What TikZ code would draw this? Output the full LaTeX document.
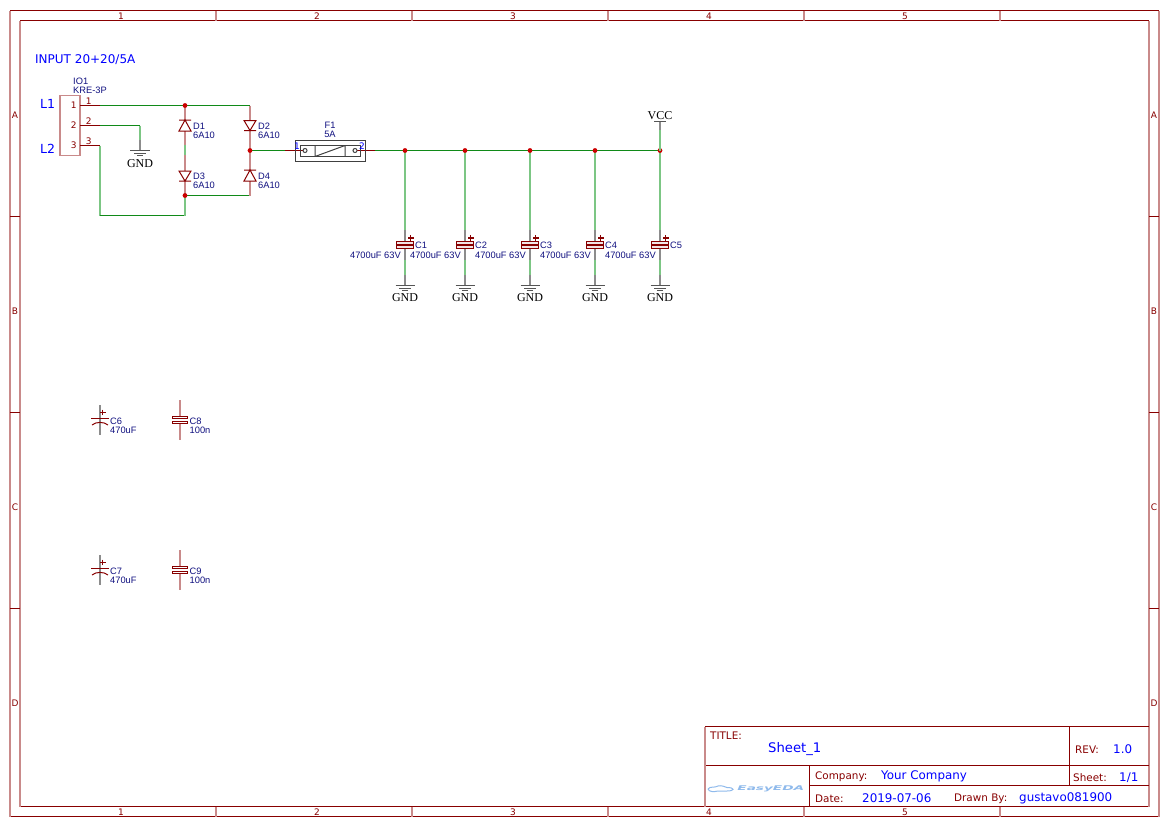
\documentclass[tikz,border=0pt]{standalone}
\usepackage{fontspec}
\setmainfont{DejaVu Sans}
\newfontfamily\partfont{Liberation Sans}
\newfontfamily\netfont{Liberation Serif}
\definecolor{framered}{HTML}{880000}
\definecolor{palered}{HTML}{C98A8A}
\definecolor{wiregreen}{HTML}{108A18}
\definecolor{palegreen}{HTML}{7CC684}
\definecolor{dotred}{HTML}{CC0000}
\definecolor{partblue}{HTML}{101080}
\definecolor{textblue}{HTML}{0000FF}
\definecolor{pingrey}{HTML}{555555}
\definecolor{palegrey}{HTML}{8C8C8C}
\definecolor{logoblue}{HTML}{8FBAEC}
\tikzset{
  wire/.style={wiregreen,line width=1pt},
  vwire/.style={palegreen,line width=1.7pt},
  pin/.style={framered,line width=1pt},
  vpin/.style={palered,line width=1.7pt},
  stub/.style={pingrey,line width=1pt},
  vstub/.style={palegrey,line width=1.7pt},
  part/.style={framered,line width=1pt},
  dot/.style={circle,fill=dotred,inner sep=0pt,minimum size=4.8pt},
  lab/.style={inner sep=0pt,text=partblue,font=\partfont\fontsize{9.3}{10}\selectfont},
  net/.style={inner sep=0pt,font=\netfont\fontsize{12}{12}\selectfont},
  head/.style={inner sep=0pt,text=framered,font=\fontsize{9}{10}\selectfont},
  pinnum/.style={inner sep=0pt,text=framered,font=\fontsize{9}{10}\selectfont},
  blk/.style={inner sep=0pt,anchor=west,text=framered,font=\fontsize{10.4}{12}\selectfont},
  val/.style={inner sep=0pt,anchor=west,text=textblue,font=\fontsize{11.9}{13}\selectfont},
}
\begin{document}
\begin{tikzpicture}[x=1pt,y=-1pt]
\useasboundingbox (0,0) rectangle (1169,827);
\fill[white] (0,0) rectangle (1169,827);
\draw[part] (10,10.5) -- (1159,10.5) (20,20.5) -- (1149,20.5) (10,816.5) -- (1159,816.5) (20,806.5) -- (1149,806.5);
\draw[vpin] (10,10.5) -- (10,816.5) (20,20.5) -- (20,806.5) (1149,20.5) -- (1149,806.5) (1159,10.5) -- (1159,816.5);
\foreach \x in {216,412,608,804,1000} {
  \draw[vpin] (\x,10.5) -- (\x,20.5);
  \draw[vpin] (\x,806.5) -- (\x,816.5);
}
\foreach \y in {216.5,412.5,608.5} {
  \draw[part] (10,\y) -- (20,\y);
  \draw[part] (1149,\y) -- (1159,\y);
}
\foreach \n/\x in {1/121,2/317,3/513,4/709,5/905} {
  \node[head] at (\x,16) {\n};
  \node[head] at (\x,812) {\n};
}
\foreach \n/\y in {A/115.5,B/311.5,C/507.5,D/703.5} {
  \node[head] at (15,\y) {\n};
  \node[head] at (1154,\y) {\n};
}

\draw[part] (705,726.5) -- (1149,726.5) (705,765.5) -- (1149,765.5) (809,785.5) -- (1149,785.5);
\draw[vpin] (705,726.5) -- (705,806.5);
\draw[part] (809,765.5) -- (809,806.5);
\draw[part] (1069,726.5) -- (1069,785.5);
\node[blk] at (710,735.5) {TITLE:};
\node[val,font=\fontsize{13.2}{15}\selectfont] at (768,749) {Sheet\_1};
\node[blk] at (1075,749.5) {REV:};
\node[val] at (1113,749) {1.0};
\node[blk] at (815,776.5) {Company:};
\node[val] at (881,776) {Your Company};
\node[blk] at (1073,778) {Sheet:};
\node[val] at (1119,778) {1/1};
\node[blk] at (815,798.5) {Date:};
\node[val] at (862,798) {2019-07-06};
\node[blk] at (954,798.5) {Drawn By:};
\node[val] at (1019,798) {gustavo081900};
\draw[logoblue,line width=1pt] (708,789) .. controls (710,786) and (715,788) .. (718,786) .. controls (722,785) and (725,787) .. (727,787.5) .. controls (735,787.5) and (735,791) .. (727,791) -- (718,791) .. controls (714,792) and (709,792) .. (708,789);
\node[inner sep=0pt,anchor=west,text=logoblue,xscale=2.1,font=\bfseries\itshape\fontsize{6.5}{7}\selectfont] at (737,788.5) {EasyEDA};

\node[inner sep=0pt,anchor=west,text=textblue,font=\fontsize{12}{14}\selectfont] at (35,59.5) {INPUT 20+20/5A};
\node[inner sep=0pt,text=textblue,font=\fontsize{12.5}{14}\selectfont] at (47.5,104) {L1};
\node[inner sep=0pt,text=textblue,font=\fontsize{12.5}{14}\selectfont] at (47.5,149) {L2};

\node[lab,anchor=west] at (73,81) {IO1};
\node[lab,anchor=west] at (73,90) {KRE-3P};
\node[draw=palered,line width=1.4pt,minimum width=20pt,minimum height=60pt,inner sep=0pt,outer sep=0pt] (io1) at (70,125.5) {};
\foreach \n/\y in {1/105.5,2/125.5,3/145.5} {
  \coordinate (p\n) at (80,\y);
  \coordinate (q\n) at (100,\y);
  \draw[pin] (p\n) -- (q\n);
  \node[pinnum] at (73.7,\y) {\n};
  \node[pinnum] at (88.7,\y-4) {\n};
}

\coordinate (top) at (185,105.5);
\coordinate (topr) at (250,105.5);
\coordinate (midr) at (250,150.5);
\coordinate (bot) at (185,195.5);
\coordinate (botr) at (250,195.5);
\coordinate (gnd0) at (140,150);
\coordinate (gnd1) at (140,140);
\coordinate (c2) at (140,125.5);
\coordinate (c3a) at (100,215.5);
\coordinate (c3b) at (185,215.5);
\coordinate (m1) at (185,145);
\coordinate (m2) at (185,155);

\draw[wire] (q1) -- (top) -- (topr);
\draw[wire] (q2) -- (c2);
\draw[vwire] (c2) -- (gnd1);
\draw[vwire] (q3) -- (c3a);
\draw[wire] (c3a) -- (c3b);
\draw[vwire] (c3b) -- (bot);
\draw[wire] (bot) -- (botr);
\draw[vwire] (m1) -- (m2);
\draw[vstub] (gnd1) -- (gnd0);
\draw[stub] (130,150.5) -- (150,150.5) (134,153) -- (146,153) (137,155.5) -- (143,155.5);
\node[net] at (140,163.5) {GND};

\draw[vpin] (top) -- (185,120) (185,131) -- (m1) (m2) -- (185,171) (185,181) -- (bot);
\draw[vpin] (topr) -- (250,120.5) (250,130.5) -- (midr) -- (250,170) (250,181) -- (botr);
\draw[part] (179,120) -- (191,120) (185,120) -- (179,131) -- (191,131) -- cycle;
\draw[part] (179,181) -- (191,181) (185,181) -- (179,171) -- (191,171) -- cycle;
\draw[part] (244,130.5) -- (256,130.5) (250,130.5) -- (244,120.5) -- (256,120.5) -- cycle;
\draw[part] (244,170) -- (256,170) (250,170) -- (244,181) -- (256,181) -- cycle;
\foreach \n/\x/\y in {D1/193/126,D2/258/126,D3/193/176,D4/258/176} {
  \node[lab,anchor=west] at (\x,\y) {\n};
  \node[lab,anchor=west] at (\x,\y+9) {6A10};
}

\node[lab] at (330,125) {F1};
\node[lab] at (330,134) {5A};
\coordinate (fl) at (285,150.5);
\coordinate (fr) at (375,150.5);
\draw[wire] (midr) -- (fl);
\draw[pin] (fl) -- (305,150.5) (355,150.5) -- (fr);
\draw[black!75,line width=1pt] (295,140.5) rectangle (365,161.5);
\draw[black!75,line width=1pt] (300,145.5) rectangle (360,156.5);
\draw[black!75,line width=1pt] (315,145.5) -- (315,156.5) (345,145.5) -- (345,156.5) (315,156.5) -- (345,145.5);
\draw[black!75,line width=1pt,fill=white] (305,150.5) circle (2) (355,150.5) circle (2);
\node[inner sep=0pt,text=textblue,font=\fontsize{9}{10}\selectfont] at (297,146) {1};
\node[inner sep=0pt,text=textblue,font=\fontsize{9}{10}\selectfont] at (362,146) {2};

\coordinate (vcc) at (660,150.5);
\draw[wire] (fr) -- (vcc);
\foreach \n/\x in {1/405,2/465,3/530,4/595,5/660} {
  \coordinate (t\n) at (\x,150.5);
  \draw[vwire] (t\n) -- (\x,230);
  \draw[vstub] (\x,230) -- (\x,241) (\x,248) -- (\x,260);
  \draw[vwire] (\x,260) -- (\x,275);
  \draw[vstub] (\x,275) -- (\x,285);
  \draw[part,fill=framered!10] (\x-8.5,241.5) rectangle (\x+8.5,244);
  \draw[part,fill=framered!10] (\x-8.5,245.5) rectangle (\x+8.5,248);
  \draw[part,line width=1.2pt] (\x+3,238) -- (\x+8.5,238) (\x+5.75,235.2) -- (\x+5.75,240.8);
  \draw[stub] (\x-9.5,285.5) -- (\x+9.5,285.5) (\x-6,288) -- (\x+6,288) (\x-3,290.5) -- (\x+3,290.5);
  \node[net] at (\x,298) {GND};
  \node[lab,anchor=west] at (\x+10,245.5) {C\n};
  \node[lab,anchor=east] at (\x-4,255.5) {4700uF 63V};
  \node[dot] at (t\n) {};
}
\draw[vwire] (660,130) -- (vcc);
\draw[vstub] (660,130) -- (660,121.5);
\draw[stub] (654,121.5) -- (666,121.5);
\node[net] at (660,115.7) {VCC};
\node[dot] at (top) {};
\node[dot] at (midr) {};
\node[dot] at (bot) {};

\foreach \n/\y in {6/0,7/150} {
  \draw[vstub] (100,405+\y) -- (100,435+\y);
  \draw[framered,line width=1pt] (91,418.5+\y) -- (109,418.5+\y);
  \draw[framered,line width=1pt] (92,425+\y) .. controls (96,421.5+\y) and (104,421.5+\y) .. (108,425+\y);
  \draw[framered,line width=1.1pt] (100,412.5+\y) -- (105.5,412.5+\y) (102.75,409.7+\y) -- (102.75,415.3+\y);
  \node[lab,anchor=west] at (110,421+\y) {C\n};
  \node[lab,anchor=west] at (110,430+\y) {470uF};
}
\foreach \n/\y in {8/0,9/150} {
  \draw[vpin] (180,400+\y) -- (180,416.5+\y) (180,423.5+\y) -- (180,440+\y);
  \draw[part,fill=white] (172.5,416.5+\y) rectangle (187.5,418.5+\y);
  \draw[part,fill=white] (172.5,421.5+\y) rectangle (187.5,423.5+\y);
  \node[lab,anchor=west] at (189.5,421+\y) {C\n};
  \node[lab,anchor=west] at (189.5,430+\y) {100n};
}
\end{tikzpicture}
\end{document}
